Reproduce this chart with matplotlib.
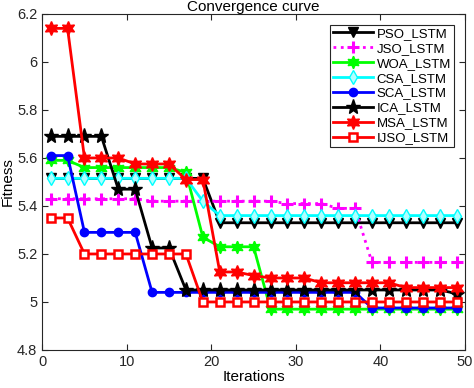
import matplotlib.pyplot as plt
from matplotlib.ticker import FormatStrFormatter

plt.rcParams['font.family'] = ['Liberation Sans', 'DejaVu Sans']

# Iterations where fitness was recorded
iters = list(range(1, 50, 2))

# Fitness values
pso = [5.515] * 10 + [5.33] * 15
jso = [5.43] * 6 + [5.42] * 8 + [5.41] * 3 + [5.39] * 2 + [5.165] * 6
woa = [5.59] * 2 + [5.56] * 6 + [5.54, 5.27] + [5.23] * 3 + [4.97] * 12
csa = [5.515] * 9 + [5.42] + [5.36] * 15
sca = [5.61] * 2 + [5.29] * 4 + [5.04] * 13 + [4.975] * 6
ica = [5.69] * 4 + [5.47] * 2 + [5.225] * 2 + [5.05] * 16 + [5.035]
msa = [6.14, 6.14, 5.60, 5.60, 5.60, 5.575, 5.575, 5.575, 5.51, 5.51,
       5.125, 5.125, 5.11, 5.10, 5.10, 5.10, 5.08, 5.08, 5.08, 5.08, 5.08,
       5.06, 5.06, 5.06, 5.06]
ijso = [5.35] * 2 + [5.20] * 7 + [5.00] * 16

labels = ['PSO_LSTM', 'JSO_LSTM', 'WOA_LSTM', 'CSA_LSTM',
          'SCA_LSTM', 'ICA_LSTM', 'MSA_LSTM', 'IJSO_LSTM']

fig = plt.figure(figsize=(4.74, 3.88), dpi=100)
ax = fig.add_axes([0.089, 0.098, 0.892, 0.866])

lw = 2
hexagram = (6, 1, 0)  # six-pointed star like MATLAB 'h'
ax.plot(iters, pso, 'k-', marker='v', ms=7, lw=lw, mfc='k', label=labels[0])
ax.plot(iters, jso, ':', color='#ff00ff', marker='+', ms=8, mew=2.2, lw=lw, label=labels[1])
ax.plot(iters, woa, '-', color='#00ff00', marker=hexagram, ms=9, lw=lw, label=labels[2])
ax.plot(iters, csa, '-', color='#00ffff', marker='d', ms=7, lw=lw, mfc='#b0ffff', label=labels[3])
ax.plot(iters, sca, '-', color='#0000ff', marker='o', ms=6, lw=lw, label=labels[4])
ax.plot(iters, ica, 'k-', marker='*', ms=11, lw=lw, label=labels[5])
ax.plot(iters, msa, '-', color='#ff0000', marker=hexagram, ms=10, lw=lw, label=labels[6])
ax.plot(iters, ijso, '-', color='#ff0000', marker='s', ms=6, mfc='white', mew=1.8, lw=lw, label=labels[7])

ax.set_xlim(0, 50)
ax.set_ylim(4.8, 6.2)
ax.set_xticks(range(0, 51, 10))
ax.set_yticks([4.8, 5.0, 5.2, 5.4, 5.6, 5.8, 6.0, 6.2])
ax.yaxis.set_major_formatter(FormatStrFormatter('%g'))
ax.tick_params(direction='in', top=True, right=True, labelsize=10.5, colors='#262626', length=4)
for s in ax.spines.values():
    s.set_color('#262626')

ax.set_xlabel('Iterations', fontsize=11, labelpad=1)
ax.set_ylabel('Fitness', fontsize=11, labelpad=2)
ax.set_title('Convergence curve', fontsize=11, pad=2)

leg = ax.legend(loc='upper right', fontsize=9.5, handlelength=3.0, borderpad=0.25,
                labelspacing=0.2, handletextpad=0.3, fancybox=False,
                edgecolor='#262626', framealpha=1, borderaxespad=0.8)
leg.get_frame().set_linewidth(0.8)

plt.savefig('out.png', dpi=100)
